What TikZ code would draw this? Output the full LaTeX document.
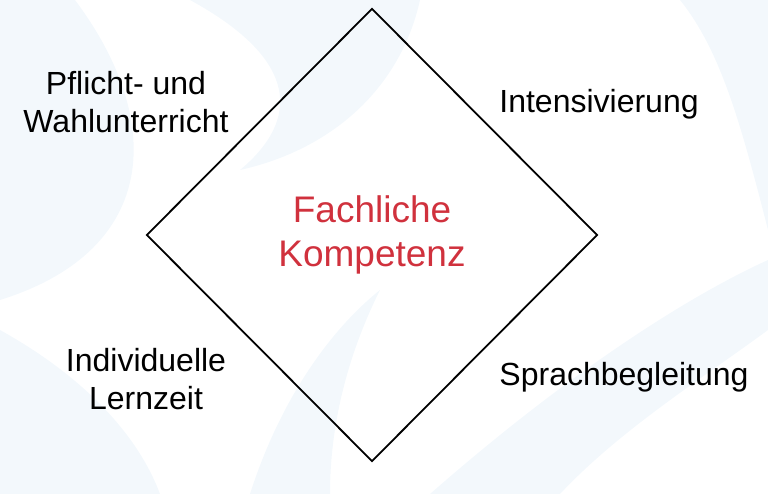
\documentclass[tikz,border=0pt]{standalone}
\usepackage{fontspec}
\setmainfont{Liberation Sans}
\usetikzlibrary{shapes.geometric}
\definecolor{swirlpale}{HTML}{F3F8FC}
\definecolor{kompred}{HTML}{D0313D}
\begin{document}
\begin{tikzpicture}[x=1pt,y=-1pt,
		side/.style={align=center,inner sep=0pt,font=\fontsize{32}{38}\selectfont},
		core/.style={draw,diamond,line width=1.8pt,minimum width=451pt,minimum height=453pt,inner sep=0pt,
			align=center,text=kompred,font=\fontsize{37}{44}\selectfont}]
				\useasboundingbox (0,0) rectangle (768,494);
				% faint background swirls
				\fill[swirlpale] (0,0) -- (75,0) .. controls (165,120) and (160,250) .. (0,300) -- cycle;
				\fill[swirlpale] (0,330) .. controls (90,380) and (140,440) .. (160,494) -- (0,494) -- cycle;
				\fill[swirlpale] (190,0) -- (420,0) .. controls (400,90) and (330,150) .. (240,170) .. controls (300,120) and (300,60) .. (190,0) -- cycle;
				\fill[swirlpale] (680,0) -- (768,0) -- (768,230) .. controls (740,120) and (720,50) .. (680,0) -- cycle;
				\fill[swirlpale] (430,494) .. controls (560,380) and (680,300) .. (768,260) -- (768,330) .. controls (700,380) and (620,430) .. (560,494) -- cycle;
				\fill[swirlpale] (250,494) .. controls (280,400) and (330,330) .. (380,290) .. controls (350,350) and (330,420) .. (330,494) -- cycle;
				% diamond with the core competence
				\node[core] (kern) at (372,235) {Fachliche\\Kompetenz};
				% the four fields round it
				\node[side] (pflicht) at (126,102) {Pflicht- und\\Wahlunterricht};
				\node[side,anchor=base] (intens) at (599,113) {Intensivierung};
				\node[side] (lernzeit) at (146,379) {Individuelle\\Lernzeit};
				\node[side,anchor=base] (sprach) at (624,385) {Sprachbegleitung};
			\end{tikzpicture}
\end{document}
